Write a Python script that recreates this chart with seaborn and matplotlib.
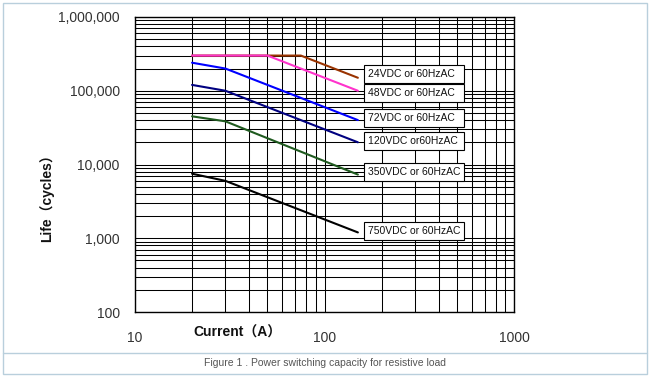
import matplotlib
matplotlib.use("Agg")
import matplotlib.pyplot as plt
import matplotlib.ticker as mticker
from matplotlib.patches import Rectangle
from matplotlib.lines import Line2D
from matplotlib.transforms import blended_transform_factory, IdentityTransform
import seaborn as sns
import pandas as pd

# ---- data ----
series_names = ["24VDC or 60HzAC", "48VDC or 60HzAC", "72VDC or 60HzAC",
                "120VDC or60HzAC", "350VDC or 60HzAC", "750VDC or 60HzAC"]
x_24 = [20, 75, 150];  y_24 = [300000, 300000, 150000]
x_48 = [20, 50, 150];  y_48 = [300000, 300000, 100000]
x_72 = [20, 30, 150];  y_72 = [240000, 200000, 40000]
x_120 = [20, 30, 150]; y_120 = [120000, 100000, 20000]
x_350 = [20, 30, 150]; y_350 = [45000, 38500, 7300]
x_750 = [20, 30, 150]; y_750 = [7500, 6000, 1200]
label_y = [170000, 92000, 42500, 20800, 7900, 1250]
colors = ["#993300", "#ff33cc", "#0000ff", "#000080", "#1f5a1f", "#000000"]
y_ticks = [100, 1000, 10000, 100000, 1000000]
x_ticks = [10, 100, 1000]

xs = [x_24, x_48, x_72, x_120, x_350, x_750]
ys = [y_24, y_48, y_72, y_120, y_350, y_750]
rows = []
for name, xv, yv in zip(series_names, xs, ys):
    for a, b in zip(xv, yv):
        rows.append({"series": name, "current": a, "life": b})
df = pd.DataFrame(rows)

sns.set_theme(style="white")
plt.rcParams["font.family"] = ["Liberation Sans", "Noto Sans CJK SC", "DejaVu Sans"]

fig = plt.figure(figsize=(6.5, 3.76), dpi=100)
ax = fig.add_axes([135/650, 1-312/376, (514-135)/650, (312-17)/376])

sns.lineplot(data=df, x="current", y="life", hue="series", hue_order=series_names,
             palette=colors, linewidth=1.5, legend=False, ax=ax, zorder=3)

ax.set_xscale("log")
ax.set_yscale("log")
ax.set_xlim(10, 1000)
ax.set_ylim(100, 1000000)
ax.set_xticks(x_ticks)
ax.set_yticks(y_ticks)
ax.xaxis.set_major_formatter(mticker.FuncFormatter(lambda v, p: f"{int(v)}"))
ax.yaxis.set_major_formatter(mticker.FuncFormatter(lambda v, p: f"{int(v):,}"))
ax.xaxis.set_minor_locator(mticker.LogLocator(base=10, subs=range(2, 10)))
ax.yaxis.set_minor_locator(mticker.LogLocator(base=10, subs=range(2, 10)))
ax.xaxis.set_minor_formatter(mticker.NullFormatter())
ax.yaxis.set_minor_formatter(mticker.NullFormatter())
ax.tick_params(which="both", length=0)
ax.tick_params(axis="y", pad=11, labelsize=10, labelcolor="#333333")
ax.tick_params(axis="x", pad=14, labelsize=10, labelcolor="#333333")
ax.grid(which="both", color="black", linewidth=0.75)
for s in ax.spines.values():
    s.set_color("black")
    s.set_linewidth(1.0)
ax.set_xlabel("")
ax.set_ylabel("")

# axis titles
fig.text(237/650, 1-333/376, "Current（A）", ha="center", va="center",
         fontsize=10, fontweight="bold", color="#111111")
fig.text(47/650, 1-195/376, "Life（cycles）", ha="center", va="center",
         rotation=90, fontsize=10, fontweight="bold", color="#111111")

# series labels in fixed-width boxes
trans = blended_transform_factory(ax.transAxes, ax.transData)
box_x0 = (364 - 135) / (514 - 135)
fig.canvas.draw()
for name, yv in zip(series_names, label_y):
    px, py = trans.transform((box_x0, yv))
    ax.add_artist(Rectangle((px, py - 9), 100, 18, fc="white", ec="black", lw=0.8,
                            zorder=5, clip_on=False, transform=IdentityTransform()))
    ax.text(box_x0 + 4 / (514 - 135), yv, name, transform=trans, ha="left",
            va="center", fontsize=7.5, color="#111111", zorder=6, clip_on=False)

# caption and frame
fig.text(325/650, 1-363/376, "Figure 1 . Power switching capacity for resistive load",
         ha="center", va="center", fontsize=7.5, color="#555555")
fig.add_artist(Rectangle((3/650, 2/376), 644/650, 371/376, transform=fig.transFigure,
                         fill=False, ec="#b9cfdc", lw=1.0))
fig.add_artist(Line2D([3/650, 647/650], [1-353/376, 1-353/376], transform=fig.transFigure,
                      color="#b9cfdc", lw=1.0))

fig.savefig("out.png", dpi=100)
